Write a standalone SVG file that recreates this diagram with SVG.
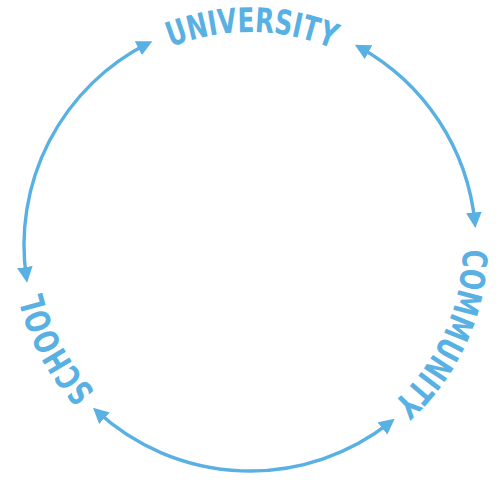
<svg xmlns="http://www.w3.org/2000/svg" width="500" height="494" viewBox="0 0 500 494">
  <style>
    .arc { fill: none; stroke: #58B0E3; stroke-width: 3.4; marker-start: url(#arrow); marker-end: url(#arrow); }
    .label { font-family: "DejaVu Sans", "Liberation Sans", sans-serif; font-weight: bold; font-size: 34px; fill: #58B0E3; }
  </style>
  <defs>
    <marker id="arrow" viewBox="0 0 10 10" refX="7" refY="5" markerWidth="4.6" markerHeight="4.6" markerUnits="strokeWidth" orient="auto-start-reverse">
      <path d="M0,0 L10,5 L0,10 z" fill="#58B0E3"/>
    </marker>
    <path id="ring" d="M37,245 A213,213 0 1 1 463,245 A213,213 0 1 1 37,245"/>
  </defs>
  <rect width="500" height="494" fill="#FFFFFF"/>
  <g id="connectors">
    <path class="arc" d="M26.43,278.01 A226,226 0 0 1 148.10,43.27"/>
    <path class="arc" d="M358.88,46.95 A226,226 0 0 1 474.96,223.34"/>
    <path class="arc" d="M390.98,421.63 A226,226 0 0 1 96.45,410.82"/>
  </g>
  <g id="university">
    <text class="label" text-anchor="middle"><textPath href="#ring" startOffset="25.14%" textLength="166" lengthAdjust="spacingAndGlyphs">UNIVERSITY</textPath></text>
  </g>
  <g id="community">
    <text class="label" text-anchor="middle"><textPath href="#ring" startOffset="56.8%" textLength="174" lengthAdjust="spacingAndGlyphs">COMMUNITY</textPath></text>
  </g>
  <g id="school">
    <text class="label" text-anchor="middle"><textPath href="#ring" startOffset="92.2%" textLength="114" lengthAdjust="spacingAndGlyphs">SCHOOL</textPath></text>
  </g>
</svg>
